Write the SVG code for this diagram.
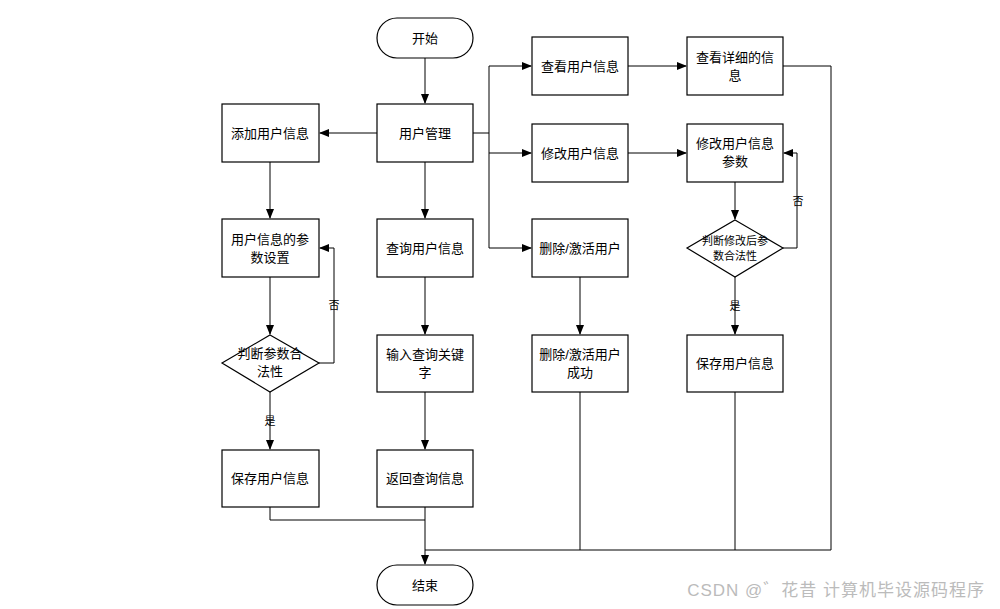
<svg xmlns="http://www.w3.org/2000/svg" width="1000" height="609" viewBox="0 0 1000 609">
<style>
.n{fill:#fff;stroke:#000;stroke-width:1.2}
.t{font-family:"Liberation Sans","Noto Sans CJK SC",sans-serif;font-size:13px;fill:#000;text-anchor:middle}
.s{font-size:11px}
.c{fill:none;stroke:#000;stroke-width:1}
</style>
<defs><marker id="a" markerWidth="10" markerHeight="8" refX="9" refY="4" orient="auto" markerUnits="userSpaceOnUse"><path d="M0,0L10,4L0,8z" fill="#000"/></marker></defs>
<rect width="1000" height="609" fill="#fff"/>
<g id="connectors">
<path class="c" d="M425,58V103" marker-end="url(#a)"/>
<path class="c" d="M377,133H320" marker-end="url(#a)"/>
<path class="c" d="M473,133H489M489,66V248" />
<path class="c" d="M489,66H531" marker-end="url(#a)"/>
<path class="c" d="M489,153H531" marker-end="url(#a)"/>
<path class="c" d="M489,248H531" marker-end="url(#a)"/>
<path class="c" d="M628,66H686" marker-end="url(#a)"/>
<path class="c" d="M628,153H686" marker-end="url(#a)"/>
<path class="c" d="M783,66H831V550H425"/>
<path class="c" d="M735,182V219" marker-end="url(#a)"/>
<path class="c" d="M783,248H797V153H784" marker-end="url(#a)"/>
<path class="c" d="M735,277V334" marker-end="url(#a)"/>
<path class="c" d="M735,392V550"/>
<path class="c" d="M580,277V334" marker-end="url(#a)"/>
<path class="c" d="M580,392V550"/>
<path class="c" d="M270,162V218" marker-end="url(#a)"/>
<path class="c" d="M270,277V334" marker-end="url(#a)"/>
<path class="c" d="M319,363H334V248H320" marker-end="url(#a)"/>
<path class="c" d="M270,392V449" marker-end="url(#a)"/>
<path class="c" d="M270,507V520H425"/>
<path class="c" d="M425,162V218" marker-end="url(#a)"/>
<path class="c" d="M425,277V334" marker-end="url(#a)"/>
<path class="c" d="M425,392V449" marker-end="url(#a)"/>
<path class="c" d="M425,507V564" marker-end="url(#a)"/>
<text class="t s" x="798" y="205">否</text>
<text class="t s" x="735" y="310">是</text>
<text class="t s" x="334" y="309">否</text>
<text class="t s" x="270" y="425">是</text>
</g>
<g id="start"><rect class="n" x="377" y="18" width="96" height="40" rx="20"/><text class="t" x="425" y="43">开始</text></g>
<g id="end"><rect class="n" x="377" y="565" width="96" height="40" rx="20"/><text class="t" x="425" y="590">结束</text></g>
<g id="mgmt"><rect class="n" x="377" y="104" width="96" height="58"/><text class="t" x="425" y="138">用户管理</text></g>
<g id="add"><rect class="n" x="222" y="104" width="97" height="58"/><text class="t" x="270" y="138">添加用户信息</text></g>
<g id="param"><rect class="n" x="222" y="219" width="97" height="58"/><text class="t" x="270" y="244">用户信息的参</text><text class="t" x="270" y="262">数设置</text></g>
<g id="check1"><path class="n" d="M270,335L319,363L270,392L222,363z"/><text class="t" x="270" y="358">判断参数合</text><text class="t" x="270" y="376">法性</text></g>
<g id="save1"><rect class="n" x="222" y="450" width="97" height="57"/><text class="t" x="270" y="483">保存用户信息</text></g>
<g id="query"><rect class="n" x="377" y="219" width="96" height="58"/><text class="t" x="425" y="253">查询用户信息</text></g>
<g id="input"><rect class="n" x="377" y="335" width="96" height="57"/><text class="t" x="425" y="359">输入查询关键</text><text class="t" x="425" y="377">字</text></g>
<g id="ret"><rect class="n" x="377" y="450" width="96" height="57"/><text class="t" x="425" y="483">返回查询信息</text></g>
<g id="view"><rect class="n" x="532" y="37" width="96" height="58"/><text class="t" x="580" y="71">查看用户信息</text></g>
<g id="edit"><rect class="n" x="532" y="124" width="96" height="58"/><text class="t" x="580" y="158">修改用户信息</text></g>
<g id="del"><rect class="n" x="532" y="219" width="96" height="58"/><text class="t" x="580" y="253">删除/激活用户</text></g>
<g id="delok"><rect class="n" x="532" y="335" width="96" height="57"/><text class="t" x="580" y="359">删除/激活用户</text><text class="t" x="580" y="377">成功</text></g>
<g id="detail"><rect class="n" x="687" y="37" width="96" height="58"/><text class="t" x="735" y="62">查看详细的信</text><text class="t" x="735" y="80">息</text></g>
<g id="editp"><rect class="n" x="687" y="124" width="96" height="58"/><text class="t" x="735" y="148">修改用户信息</text><text class="t" x="735" y="166">参数</text></g>
<g id="check2"><path class="n" d="M735,220L783,248L735,277L687,248z"/><text class="t s" x="735" y="245">判断修改后参</text><text class="t s" x="735" y="260">数合法性</text></g>
<g id="save2"><rect class="n" x="687" y="335" width="96" height="57"/><text class="t" x="735" y="368">保存用户信息</text></g>
<text x="985" y="596" style="font-family:'Liberation Sans','Noto Sans CJK SC',sans-serif;font-size:17px;letter-spacing:1px;fill:#bbb;text-anchor:end">CSDN @゛花昔  计算机毕设源码程序</text>
</svg>
